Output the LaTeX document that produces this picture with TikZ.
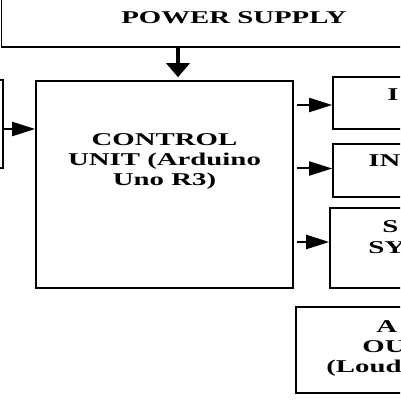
\documentclass[tikz,border=0pt]{standalone}
\usepackage{fontspec}
\newfontfamily\blockfont[FakeStretch=1.6]{Liberation Serif}
\usetikzlibrary{arrows.meta,fit}

\tikzset{
	blk/.style={draw, line width=0.8pt, inner sep=0pt, fit={#1}},
	txt/.style={inner sep=0pt, font={\blockfont\bfseries\fontsize{9}{10}\selectfont}},
	varrow/.style={line width=2pt, -{Triangle[length=7pt,width=11.5pt]}},
	harrow/.style={line width=1pt, -{Triangle[length=11.5pt,width=7pt]}}
}

\begin{document}
\begin{tikzpicture}[x=0.5pt,y=-0.5pt]
	
	\useasboundingbox (0,0) rectangle (400,400);
	\clip (0,0) rectangle (400,400);
	
	% Draw the blocks
	\node[blk={(1.5,-60) (460,47)}] (psu) {};
	\node[blk={(-60,80) (3,168)}] (inbox) {};
	\node[blk={(36,81) (293,288)}] (ctrl) {};
	\node[blk={(333,77) (460,129)}] (disp) {};
	\node[blk={(333,144) (460,197)}] (ind) {};
	\node[blk={(330,208) (460,288)}] (sec) {};
	\node[blk={(296,307) (460,393)}] (audio) {};
	
	% Block texts
	\node[txt] (psutxt) at (234,17.5) {POWER SUPPLY};
	\node[txt, align=center, anchor=north] (ctrltxt) at (164.5,133) {CONTROL\\UNIT (Arduino\\Uno R3)};
	\node[txt, anchor=base west] (disptxt) at (387,101) {I};
	\node[txt, anchor=base west] (indtxt) at (368,167) {IN};
	\node[txt, anchor=base west] (sectxt) at (382,233) {S};
	\node[txt, anchor=base west] (sectxtb) at (368,253) {SY};
	\node[txt, anchor=base west] (audiotxt) at (376,332) {A};
	\node[txt, anchor=base west] (audiotxtb) at (362,352) {OU};
	\node[txt, anchor=base west] (audiotxtc) at (326,372) {(Loud};
	
	% Draw the arrows
	\draw[varrow, shorten >=1.5pt] ([xshift=6.75pt]ctrl.north |- psu.south) -- ([xshift=6.75pt]ctrl.north);
	\draw[harrow] ([yshift=-2.5pt]inbox.east) -- ([yshift=-2.5pt]inbox.east -| ctrl.west);
	\foreach \b/\s in {disp/-1pt, ind/1pt, sec/3pt}
		\draw[harrow] ([xshift=1.5pt,yshift=\s]ctrl.east |- \b.west) -- ([yshift=\s]\b.west);

\end{tikzpicture}
\end{document}
